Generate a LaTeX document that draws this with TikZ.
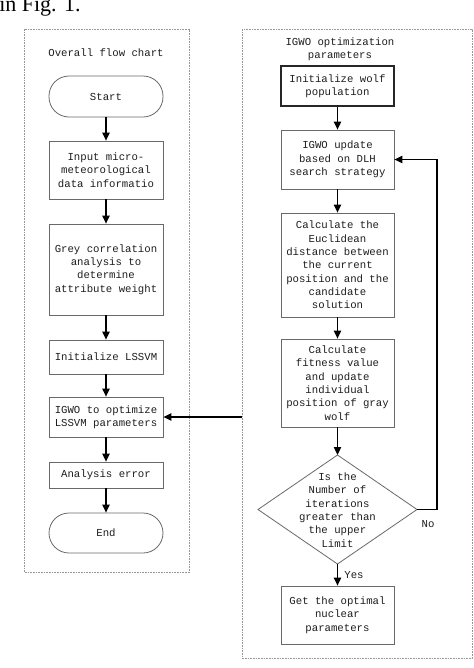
\documentclass[tikz,border=0pt]{standalone}
\usepackage{fontspec}
\setmainfont{Liberation Serif}
\newfontfamily\monof{Liberation Mono}
\usetikzlibrary{arrows.meta}
\definecolor{boxgray}{RGB}{105,105,105}
\definecolor{contgray}{RGB}{150,150,150}
\definecolor{txt}{RGB}{30,30,30}
\begin{document}
\begin{tikzpicture}[x=0.75pt,y=-0.75pt,
  mono/.style={font=\monof\fontsize{8}{10}\selectfont, text=txt, align=center, inner sep=0pt},
  box/.style={mono, draw=boxgray, line width=0.6pt, fill=white, minimum width=85.5pt},
  rbox/.style={box, minimum width=84.75pt},
  term/.style={box, rounded corners=15pt},
  cont/.style={draw=contgray, line width=0.6pt, dash pattern=on 1.2pt off 0.8pt},
  arr/.style={draw=black, line width=0.9pt, -{Triangle[length=6pt,width=5.5pt]}},
  lbl/.style={mono}
]
\useasboundingbox (0,0) rectangle (474,668);
\clip (0,0) rectangle (474,668);
\fill[white] (0,0) rectangle (474,668);

% cut-off caption text at the very top
\node[anchor=base west, inner sep=0pt, font=\fontsize{16.5}{18}\selectfont] (fig) at (-1,11) {in Fig. 1.};

% containers
\draw[cont] (24,29) rectangle (189,572);
\draw[cont] (242,29) rectangle (472,658);
\coordinate (rcl) at (242,417);

% left column
\node[lbl] (ltitle) at (106,53) {Overall flow chart};
\node[term, minimum height=30.75pt] (start) at (106,96.5) {Start};
\node[box, minimum height=43.5pt] (input) at (106,170) {Input micro-\\meteorological\\data informatio};
\node[box, minimum height=68.25pt] (grey) at (106,269.5) {Grey correlation\\analysis to\\determine\\attribute weight};
\node[box, minimum height=25.5pt] (init) at (106,357) {Initialize LSSVM};
\node[box, minimum height=30pt] (igwo) at (106,417) {IGWO to optimize\\LSSVM parameters};
\node[box, minimum height=19.5pt] (err) at (106,475) {Analysis error};
\node[term, minimum height=30pt] (end) at (106,533) {End};

\draw[arr] (start) -- (input);
\draw[arr] (input) -- (grey);
\draw[arr] (grey) -- (init);
\draw[arr] (init) -- (igwo);
\draw[arr] (igwo) -- (err);
\draw[arr] (err) -- (end);
\draw[arr] (rcl) -- (igwo.east);

% right column
\node[lbl] (rtitle) at (340,49.5) {IGWO optimization\\parameters};
\node[rbox, draw=black!85, line width=1pt, minimum height=30pt] (wolf) at (337.5,86) {Initialize wolf\\population};
\node[rbox, minimum height=44.25pt] (upd) at (337.5,159.5) {IGWO update\\based on DLH\\search strategy};
\node[rbox, minimum height=78pt] (euc) at (337.5,265) {Calculate the\\Euclidean\\distance between\\the current\\position and the\\candidate\\solution};
\node[rbox, minimum height=66pt] (fit) at (337.5,383) {Calculate\\fitness value\\and update\\individual\\position of gray\\wolf};

% decision diamond
\coordinate (dN) at (337.5,455);
\coordinate (dE) at (417,509.5);
\coordinate (dS) at (337.5,564);
\coordinate (dW) at (258,509.5);
\draw[draw=boxgray, line width=0.6pt, fill=white] (dN) -- (dE) -- (dS) -- (dW) -- cycle;
\node[lbl] (dec) at (337.5,510) {Is the\\Number of\\iterations\\greater than\\the upper\\Limit};

\node[rbox, minimum height=43.5pt] (opt) at (337.5,615) {Get the optimal\\nuclear\\parameters};

\draw[arr] (wolf) -- (upd);
\draw[arr] (upd) -- (euc);
\draw[arr] (euc) -- (fit);
\draw[arr] (fit) -- (dN);
\draw[arr] (dS) -- (opt);
\coordinate (loopA) at (437,509.5);
\coordinate (loopB) at (437,159.5);
\draw[arr] (dE) -- (loopA) -- (loopB) -- (upd.east);

\node[lbl] (no) at (428,524) {No};
\node[lbl] (yes) at (354,575) {Yes};
\end{tikzpicture}
\end{document}
